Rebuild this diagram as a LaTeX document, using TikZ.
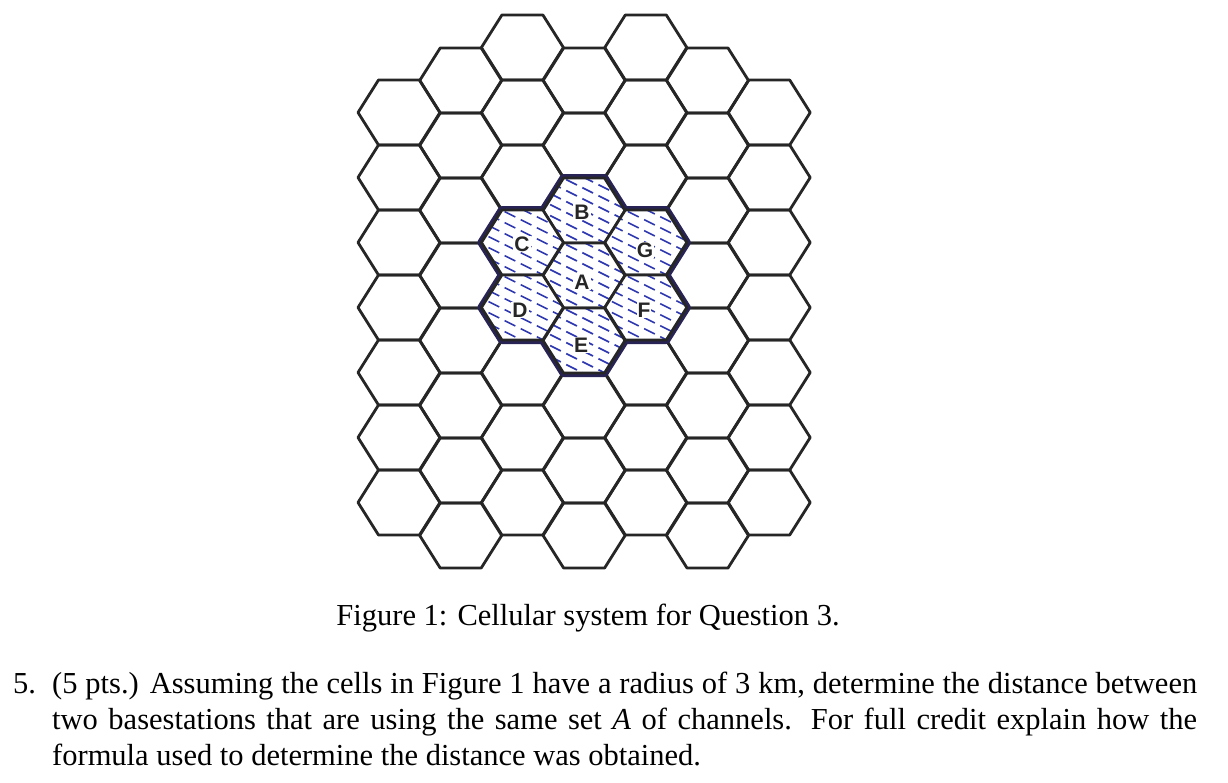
\documentclass[tikz,border=0pt]{standalone}
\usepackage{fontspec}
\setmainfont{Liberation Serif}
\newfontfamily\lblfont{Liberation Sans}
\newcommand\hexat[2]{({#1-41},{#2}) -- ({#1-20.5},{#2-32.5}) -- ({#1+20.5},{#2-32.5}) -- ({#1+41},{#2}) -- ({#1+20.5},{#2+32.5}) -- ({#1-20.5},{#2+32.5}) -- cycle}
\definecolor{hatch}{RGB}{45,55,175}
\definecolor{rim}{RGB}{40,35,85}
\tikzset{cellline/.style={draw=black!85,line width=2.8pt,line join=round},
  lbl/.style={font=\lblfont\bfseries\fontsize{21}{21}\selectfont,fill=white,inner sep=1pt,text=black!85}}
\begin{document}
\begin{tikzpicture}[x=1pt,y=-1pt]
\useasboundingbox (0,0) rectangle (1228,782);
% grid
\foreach \k/\top/\n in {0/112.5/6,2/47.5/7,4/47.5/7,6/112.5/6,1/80.5/7,3/80.5/7,5/80.5/7}{
  \foreach \j in {0,...,\n}{
    \pgfmathsetmacro\cx{399+61.7*\k}
    \pgfmathsetmacro\cy{\top+65*\j}
    \draw[cellline] \hexat{\cx}{\cy};
  }}
% cluster
\def\cluster{584/210.5,584/275.5,584/340.5,522.4/242.5,522.4/307.5,645.8/242.5,645.8/307.5}
\foreach \cx/\cy in \cluster{\draw[draw=rim,line width=8pt,line join=round] \hexat{\cx}{\cy};}
\foreach \cx/\cy in \cluster{
  \fill[white] \hexat{\cx}{\cy};
  \begin{scope}
    \clip \hexat{\cx}{\cy};
    \foreach \t in {-99,-88,...,99}{
      \draw[hatch,line width=1.6pt,dash pattern=on 12pt off 6pt] ({\cx-50},{\cy+\t-25}) -- ({\cx+50},{\cy+\t+25});}
  \end{scope}
  \draw[cellline] \hexat{\cx}{\cy};}
\node[lbl] (lb) at (582,212) {B};
\node[lbl] (lc) at (522,244) {C};
\node[lbl] (lg) at (645,250) {G};
\node[lbl] (la) at (582,282) {A};
\node[lbl] (ld) at (520,310) {D};
\node[lbl] (le) at (581,345) {E};
\node[lbl] (lf) at (644,310) {F};
% text
\node[font=\fontsize{30.5}{36}\selectfont] (cap) at (588,618) {Figure 1: Cellular system for Question 3.};
\node[font=\fontsize{30.5}{36}\selectfont,anchor=base west,inner sep=0pt] (num) at (13,693) {5.};
\node[font=\fontsize{30.5}{36}\selectfont,anchor=base west,text width=1145pt,align=justify,inner sep=0pt] (q) at (52,693)
 {(5 pts.) Assuming the cells in Figure 1 have a radius of 3 km, determine the distance between\linebreak two basestations that are using the same set \textit{A} of channels. For full credit explain how the\linebreak formula used to determine the distance was obtained.};
\end{tikzpicture}
\end{document}
